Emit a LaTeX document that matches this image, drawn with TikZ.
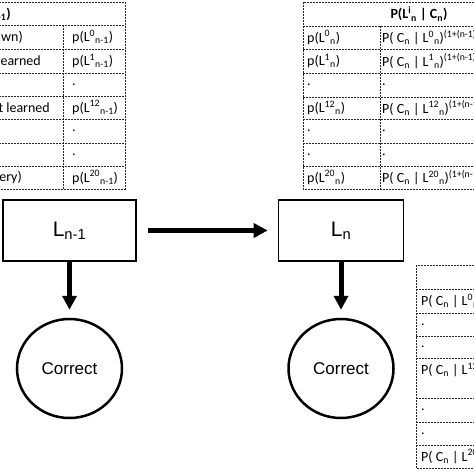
\documentclass[tikz,border=0pt]{standalone}
\usepackage{fontspec}
\setmainfont{Carlito}
\newfontfamily\arialf{Liberation Sans}
\usetikzlibrary{arrows.meta,shapes.geometric}
\begin{document}
\begin{tikzpicture}[x=1pt,y=-1pt,
  tline/.style={draw=black!85,line width=1pt,dash pattern=on 2pt off 1pt},
  ttext/.style={font=\fontsize{14}{16}\selectfont,inner sep=0pt,anchor=west},
  tcut/.style={font=\fontsize{14}{16}\selectfont,inner sep=0pt,anchor=east},
  tbold/.style={font=\fontsize{14}{16}\selectfont\bfseries,inner sep=0pt},
  statebox/.style={draw,line width=1.6pt,minimum height=61pt,inner sep=0pt,font=\arialf\fontsize{21}{24}\selectfont},
  obsnode/.style={draw,ellipse,line width=2.5pt,minimum width=105pt,minimum height=99pt,inner sep=0pt,font=\arialf\fontsize{17}{20}\selectfont},
  arr/.style={line width=5pt,-{Triangle[length=14pt,width=14pt]}}
]
\clip (0,0) rectangle (474,474);
% ---- left table (cut off at the left edge)
\draw[tline] (-130,2) rectangle (125,189);
\foreach \yy in {25,49,73,96,119,143,166} {\draw[tline] (-130,\yy) -- (125,\yy);}
\draw[tline] (63,25) -- (63,189);
\node[tbold,anchor=east] (lh) at (11,14) {P(L\textsubscript{n-1})};
\node[tcut] (la1) at (23,37) {wn)};
\node[tcut] (la2) at (41,61) {learned};
\node[tcut] (la4) at (50,107.5) {t learned};
\node[tcut] (la7) at (22,177.5) {ery)};
\node[ttext] (lb1) at (72,37) {p(L\textsuperscript{0}\textsubscript{n-1})};
\node[ttext] (lb2) at (72,61) {p(L\textsuperscript{1}\textsubscript{n-1})};
\node[ttext] (lb3) at (72,84.5) {.};
\node[ttext] (lb4) at (72,107.5) {p(L\textsuperscript{12}\textsubscript{n-1})};
\node[ttext] (lb5) at (72,131) {.};
\node[ttext] (lb6) at (72,154.5) {.};
\node[ttext] (lb7) at (72,177.5) {p(L\textsuperscript{20}\textsubscript{n-1})};
% ---- top right table
\draw[tline] (303,2) rectangle (560,189);
\foreach \yy in {26,49,73,97,119,143,166} {\draw[tline] (303,\yy) -- (560,\yy);}
\draw[tline] (380,26) -- (380,189);
\node[tbold] (rh) at (419,14) {P(L\textsuperscript{i}\textsubscript{n} | C\textsubscript{n})};
\node[ttext] (ra1) at (307,37.5) {p(L\textsuperscript{0}\textsubscript{n})};
\node[ttext] (ra2) at (307,61) {p(L\textsuperscript{1}\textsubscript{n})};
\node[ttext] (ra3) at (307,85) {.};
\node[ttext] (ra4) at (307,108) {p(L\textsuperscript{12}\textsubscript{n})};
\node[ttext] (ra5) at (307,131) {.};
\node[ttext] (ra6) at (307,154.5) {.};
\node[ttext] (ra7) at (307,177.5) {p(L\textsuperscript{20}\textsubscript{n})};
\node[ttext] (rb1) at (382,37.5) {P( C\textsubscript{n} | L\textsuperscript{0}\textsubscript{n})\textsuperscript{(1+(n-1)*}};
\node[ttext] (rb2) at (382,61) {P( C\textsubscript{n} | L\textsuperscript{1}\textsubscript{n})\textsuperscript{(1+(n-1)*}};
\node[ttext] (rb3) at (382,85) {.};
\node[ttext] (rb4) at (382,108) {P( C\textsubscript{n} | L\textsuperscript{12}\textsubscript{n})\textsuperscript{(1+(n-1)*}};
\node[ttext] (rb5) at (382,131) {.};
\node[ttext] (rb6) at (382,154.5) {.};
\node[ttext] (rb7) at (382,177.5) {P( C\textsubscript{n} | L\textsuperscript{20}\textsubscript{n})\textsuperscript{(1+(n-1)*}};
% ---- bottom right table
\draw[tline] (416,265) rectangle (560,468);
\foreach \yy in {289,313,336,358,398,422,445} {\draw[tline] (416,\yy) -- (560,\yy);}
\node[ttext] (ba1) at (421,301) {P( C\textsubscript{n} | L\textsuperscript{0}\textsubscript{n})};
\node[ttext] (ba2) at (421,324.5) {.};
\node[ttext] (ba3) at (421,347) {.};
\node[ttext] (ba4) at (421,370) {P( C\textsubscript{n} | L\textsuperscript{12}\textsubscript{n})};
\node[ttext] (ba5) at (421,410) {.};
\node[ttext] (ba6) at (421,433.5) {.};
\node[ttext] (ba7) at (421,456.5) {P( C\textsubscript{n} | L\textsuperscript{20}\textsubscript{n})};
% ---- graph
\node[statebox,minimum width=133pt] (Lp) at (69.5,230.5) {L\textsubscript{n-1}};
\node[statebox,minimum width=125pt] (Ln) at (341,230.5) {L\textsubscript{n}};
\node[obsnode] (cp) at (69.5,368.5) {Correct};
\node[obsnode] (cn) at (341,368.5) {Correct};
\draw[arr,shorten <=11pt,shorten >=10pt] (Lp) -- (Ln);
\draw[arr,shorten >=8pt] (Lp) -- (cp);
\draw[arr,shorten >=8pt] (Ln) -- (cn);
\end{tikzpicture}
\end{document}
